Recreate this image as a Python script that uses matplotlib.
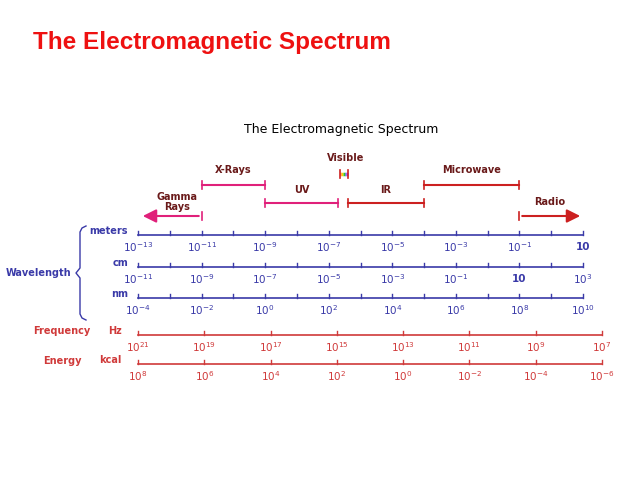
import matplotlib
matplotlib.use("Agg")
import matplotlib.pyplot as plt
from matplotlib.patches import FancyArrowPatch

# data (log10 of wavelength in meters)
bands = ["Gamma\nRays", "X-Rays", "UV", "Visible", "IR", "Microwave", "Radio"]
band_start = [-13.0, -11, -9, -6.65, -6.4, -4, -1]
band_end = [-11, -9, -6.7, -6.4, -4, -1, 1.0]
band_row = [2, 0, 1, -1, 1, 0, 2]
meters_exp = [-13, -11, -9, -7, -5, -3, -1, 1]
cm_exp = [-11, -9, -7, -5, -3, -1, 1, 3]
nm_exp = [-4, -2, 0, 2, 4, 6, 8, 10]
hz_exp = [21, 19, 17, 15, 13, 11, 9, 7]
kcal_exp = [8, 6, 4, 2, 0, -2, -4, -6]

fig = plt.figure(figsize=(6.38, 4.78), dpi=100)
ax = fig.add_axes([0, 0, 1, 1])
ax.set_xlim(0, 638); ax.set_ylim(478, 0); ax.axis("off")

X0, X1 = 138, 583
def px(lg):
    return X0 + (lg + 13) * (X1 - X0) / 14

BLUE = "#3a3aa8"; RED = "#d03a3a"; PINK = "#e0207a"; DRED = "#cc2020"; TXT = "#6a1a1a"

ax.text(33, 42, "The Electromagnetic Spectrum", color="#ee1111", fontsize=17.5,
        fontweight="bold", va="center", family="Liberation Sans")
ax.text(341, 129, "The Electromagnetic Spectrum", fontsize=9, va="center", ha="center")

row_y = {0: 185, 1: 203, 2: 216, -1: 174}
lab_y = {0: 170, 1: 190, 2: 202, -1: 158}
for name, s, e, r in zip(bands, band_start, band_end, band_row):
    y = row_y[r]
    col = PINK if name in ("Gamma\nRays", "X-Rays", "UV") else DRED
    x0, x1 = px(s), px(e)
    if name == "Visible":
        cols = ["#ff3030", "#ffd000", "#30c030", "#3050ff", "#b030ff"]
        w = (x1 - x0) / len(cols)
        for i, c in enumerate(cols):
            ax.plot([x0 + i*w, x0 + (i+1)*w], [y, y], color=c, lw=2.5, solid_capstyle="butt")
        ax.plot([x0, x0], [y-4, y+4], color=DRED, lw=1.2)
        ax.plot([x1, x1], [y-4, y+4], color=DRED, lw=1.2)
    elif name.startswith("Gamma"):
        ax.add_patch(FancyArrowPatch((x1, y), (140, y), arrowstyle="-|>,head_length=8,head_width=4", color=col, lw=1.5))
        ax.plot([x1, x1], [y-4, y+4], color=col, lw=1.2)
    elif name == "Radio":
        ax.add_patch(FancyArrowPatch((x0, y), (x1, y), arrowstyle="-|>,head_length=8,head_width=4", color=col, lw=1.5))
        ax.plot([x0, x0], [y-4, y+4], color=col, lw=1.2)
    else:
        ax.plot([x0, x1], [y, y], color=col, lw=1.5)
        for xx in (x0, x1):
            ax.plot([xx, xx], [y-4, y+4], color=col, lw=1.2)
    cx = {"Gamma\nRays": 177, "Radio": 550, "Visible": 346}.get(name, (x0 + x1) / 2)
    ax.text(cx, lab_y[r], name, color=TXT, fontsize=7, fontweight="bold", ha="center",
            va="center", linespacing=0.95)

def axis_line(y, exps, col, x0, x1, nt, name, namex):
    ax.plot([x0, x1], [y, y], color=col, lw=1.2)
    for i in range(nt):
        xx = x0 + i * (x1 - x0) / (nt - 1)
        ax.plot([xx, xx], [y - 4, y], color=col, lw=1)
    n = len(exps)
    for i, ex in enumerate(exps):
        xx = x0 + i * (x1 - x0) / (n - 1)
        lab = "10" if (ex == 1 and name in ("meters", "cm")) else "$10^{%d}$" % ex
        ax.text(xx, y + 12, lab, color=col, fontsize=7.5, ha="center", va="center",
                fontweight="bold" if col == BLUE else "normal")
    ax.text(namex, y - 4, name, color=col, fontsize=7, fontweight="bold", ha="right", va="center")

axis_line(235, meters_exp, BLUE, X0, X1, 15, "meters", 128)
axis_line(267, cm_exp, BLUE, X0, X1, 15, "cm", 128)
axis_line(298, nm_exp, BLUE, X0, X1, 15, "nm", 128)
axis_line(335, hz_exp, RED, 138, 602, 8, "Hz", 122)
axis_line(364, kcal_exp, RED, 138, 602, 8, "kcal", 122)
ax.text(90, 331, "Frequency", color=RED, fontsize=7, fontweight="bold", ha="right", va="center")
ax.text(82, 361, "Energy", color=RED, fontsize=7, fontweight="bold", ha="right", va="center")
ax.text(6, 273, "Wavelength", color=BLUE, fontsize=7, fontweight="bold", ha="left", va="center")
# brace
ax.plot([86, 82, 80, 80, 76, 80, 80, 82, 86], [226, 228, 232, 268, 273, 278, 314, 318, 320],
        color=BLUE, lw=1)

fig.savefig("out.png", dpi=100)
